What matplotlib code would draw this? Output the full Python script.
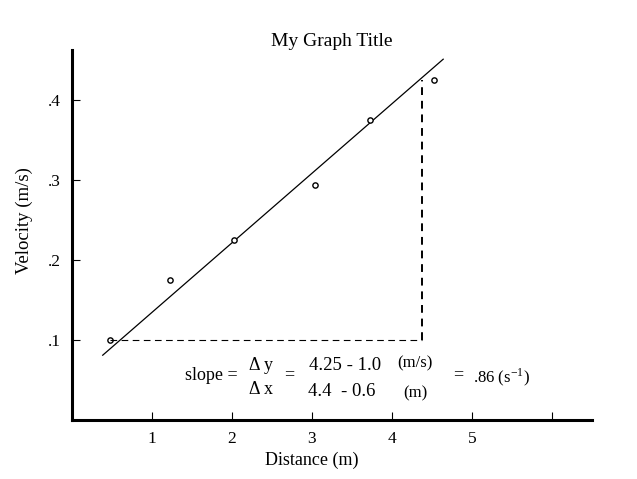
import matplotlib
matplotlib.use("Agg")
import matplotlib.pyplot as plt

plt.rcParams['font.family'] = ['Liberation Serif', 'DejaVu Serif']
plt.rcParams['mathtext.fontset'] = 'stix'

# measured points (distance in m, velocity in m/s)
distance = [0.475, 1.22, 2.03, 3.04, 3.72, 4.53]
velocity = [0.1006, 0.175, 0.225, 0.294, 0.375, 0.425]

# hand drawn best fit line
fit_x = [0.384, 4.64]
fit_y = [0.081, 0.451]

# slope triangle
tri_x = [0.475, 4.38, 4.38]
tri_y = [0.1, 0.1, 0.425]

x_ticks = [1, 2, 3, 4, 5, 6]
x_labels = ['1', '2', '3', '4', '5', '']
y_ticks = [0.1, 0.2, 0.3, 0.4]
y_labels = ['.1', '.2', '.3', '.4']

fig = plt.figure(figsize=(6.37, 4.79), dpi=100)
ax = fig.add_axes([72 / 637, 59 / 479, 520 / 637, 370 / 479])

ax.plot(fit_x, fit_y, color='black', lw=0.9)
ax.plot(distance, velocity, 'o', mfc='white', mec='black', ms=3.8, mew=1.0)
ax.plot(tri_x[:2], tri_y[:2], color='black', lw=0.8, dashes=(6, 4))
ax.plot(tri_x[1:], tri_y[1:], color='black', lw=1.4, dashes=(4, 3))

ax.set_xlim(0, 6.5)
ax.set_ylim(0, 0.4625)
ax.set_xticks(x_ticks)
ax.set_xticklabels(x_labels)
ax.set_yticks(y_ticks)
ax.set_yticklabels(y_labels)
ax.tick_params(direction='in', length=6, width=0.8, labelsize=12.5, pad=8)

for side in ['top', 'right']:
    ax.spines[side].set_visible(False)
for side in ['left', 'bottom']:
    ax.spines[side].set_linewidth(2.2)

ax.set_title('My Graph Title', fontsize=14, pad=-1)
ax.set_xlabel('Distance (m)', fontsize=13)
ax.xaxis.set_label_coords(0.4615, -0.085)
ax.set_ylabel('Velocity (m/s)', fontsize=13.5)
ax.yaxis.set_label_coords(-0.075, 0.54)

# slope calculation
fs = 13
ax.text(1.7375, 0.05625, 'slope =', fontsize=fs, ha='center', va='center')
ax.text(2.3625, 0.06875, 'Δ y', fontsize=fs, ha='center', va='center')
ax.text(2.3625, 0.0375, 'Δ x', fontsize=fs, ha='center', va='center')
ax.text(2.7125, 0.05625, '=', fontsize=fs, ha='center', va='center')
ax.text(3.4125, 0.06875, '4.25 - 1.0', fontsize=fs + 0.5, ha='center', va='center')
ax.text(3.375, 0.035, '4.4  - 0.6', fontsize=fs + 0.5, ha='center', va='center')
ax.text(4.2875, 0.07125, '(m/s)', fontsize=fs - 1, ha='center', va='center')
ax.text(4.2875, 0.03375, '(m)', fontsize=fs - 1, ha='center', va='center')
ax.text(4.825, 0.05625, '=', fontsize=fs, ha='center', va='center')
ax.text(5.375, 0.05375, r'.86 (s$^{\mathregular{-1}}$)', fontsize=fs - 1,
        ha='center', va='center')

fig.savefig('out.png', dpi=100)
